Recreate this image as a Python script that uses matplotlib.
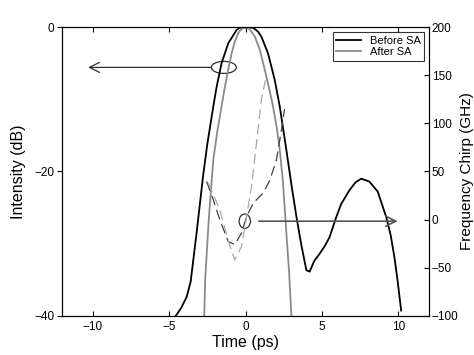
import matplotlib
matplotlib.use("Agg")
import matplotlib.pyplot as plt
from matplotlib.patches import Ellipse

plt.rcParams["font.family"] = ["Liberation Sans", "DejaVu Sans"]

# intensity before SA (dB)
t_before = [-4.55, -4.2, -3.85, -3.59, -3.2, -2.77, -2.5, -2.11, -1.89, -1.57, -1.13, -0.8,
            -0.59, -0.37, 0.0, 0.5, 0.82, 1.04, 1.47, 1.91, 2.24, 2.67, 3.0, 3.33, 3.65, 3.98,
            4.19, 4.5, 4.85, 5.2, 5.5, 5.94, 6.26, 6.8, 7.2, 7.57, 8.1, 8.65, 9.2, 9.5, 9.74,
            9.95, 10.18]
db_before = [-40.0, -38.9, -37.4, -35.3, -28.5, -20.5, -16.2, -11.0, -8.25, -5.0, -2.2, -1.1,
             -0.37, -0.05, 0.0, -0.05, -0.6, -1.3, -3.6, -7.3, -11.0, -17.0, -21.8, -26.3, -30.2,
             -33.7, -33.9, -32.4, -31.4, -30.3, -29.1, -26.3, -24.5, -22.6, -21.5, -21.0, -21.4,
             -22.8, -26.3, -28.9, -31.9, -35.2, -39.3]

# intensity after SA (dB)
t_after = [-2.7, -2.64, -2.4, -2.11, -1.85, -1.57, -1.35, -1.1, -0.91, -0.7, -0.48, -0.25,
           0.0, 0.25, 0.61, 0.95, 1.26, 1.55, 1.8, 2.05, 2.24, 2.45, 2.67, 2.85, 3.0]
db_after = [-40.0, -35.0, -26.5, -18.4, -14.5, -11.0, -8.25, -5.5, -3.6, -2.0, -0.8, -0.2,
            0.0, -0.2, -1.3, -3.2, -5.9, -8.5, -11.0, -14.0, -17.0, -21.5, -28.5, -34.0, -40.0]

# frequency chirp (GHz)
t_chirp_before = [-2.54, -2.11, -1.68, -1.13, -0.7, -0.26, 0.07, 0.5, 1.15, 1.59, 2.02, 2.35, 2.55]
chirp_before = [39.5, 20.5, -0.3, -23.0, -26.0, -14.0, 3.0, 17.0, 27.5, 41.0, 62.0, 93.0, 115.0]
t_chirp_after = [-2.44, -1.68, -1.02, -0.7, -0.26, 0.07, 0.39, 0.72, 1.04, 1.3]
chirp_after = [38.0, 10.0, -28.0, -42.0, -28.0, 3.0, 34.0, 80.0, 125.0, 145.0]

x_ticks = [-10, -5, 0, 5, 10]
left_ticks = [-40, -20, 0]
right_ticks = [-100, -50, 0, 50, 100, 150, 200]

fig = plt.figure(figsize=(4.74, 3.55), dpi=100)
ax = fig.add_axes([0.131, 0.111, 0.774, 0.812])
ax2 = ax.twinx()

black = "#000000"
gray = "#8a8a8a"

l1, = ax.plot(t_before, db_before, color=black, lw=1.3, label="Before SA")
l2, = ax.plot(t_after, db_after, color=gray, lw=1.3, label="After SA")
ax2.plot(t_chirp_before, chirp_before, color="#404040", lw=0.9, dashes=(8, 4))
ax2.plot(t_chirp_after, chirp_after, color="#a8a8a8", lw=0.9, dashes=(8, 4))

ax.set_xlim(-12, 12)
ax.set_ylim(-40, 0)
ax2.set_ylim(-100, 200)
ax.set_xticks(x_ticks)
ax.set_yticks(left_ticks)
ax2.set_yticks(right_ticks)

ax.tick_params(axis="x", direction="in", top=True, labelsize=8.5, length=3.5, pad=4)
ax.tick_params(axis="y", direction="out", labelsize=8.5, length=3.5, pad=2)
ax2.tick_params(axis="y", direction="in", labelsize=8.5, length=3.5, pad=2)

ax.set_xlabel("Time (ps)", fontsize=11.5, labelpad=1)
ax.set_ylabel("Intensity (dB)", fontsize=11.5, labelpad=6)
ax2.set_ylabel("Frequency Chirp (GHz)", fontsize=11, labelpad=1)

# markers pointing to the relevant axis
ax.add_patch(Ellipse((-1.42, -5.56), 1.63, 1.67, fill=False, ec="#303030", lw=0.9))
ax.annotate("", xy=(-10.3, -5.56), xytext=(-2.24, -5.56),
            arrowprops=dict(arrowstyle="->", color="#303030", lw=0.9,
                            mutation_scale=18, shrinkA=0, shrinkB=0))
ax.add_patch(Ellipse((-0.05, -26.9), 0.74, 2.0, fill=False, ec="#303030", lw=0.9))
ax.annotate("", xy=(9.95, -26.9), xytext=(0.87, -26.9),
            arrowprops=dict(arrowstyle="->", color="#555555", lw=1.2,
                            mutation_scale=18, shrinkA=0, shrinkB=0))

leg = ax2.legend(handles=[l1, l2], loc="upper right", fontsize=8, frameon=True,
                 fancybox=False, borderpad=0.3, labelspacing=0.15, handlelength=2.2,
                 handletextpad=0.8, borderaxespad=0.45)
leg.get_frame().set_edgecolor("black")
leg.get_frame().set_linewidth(0.8)

fig.savefig("out.png", dpi=100)
